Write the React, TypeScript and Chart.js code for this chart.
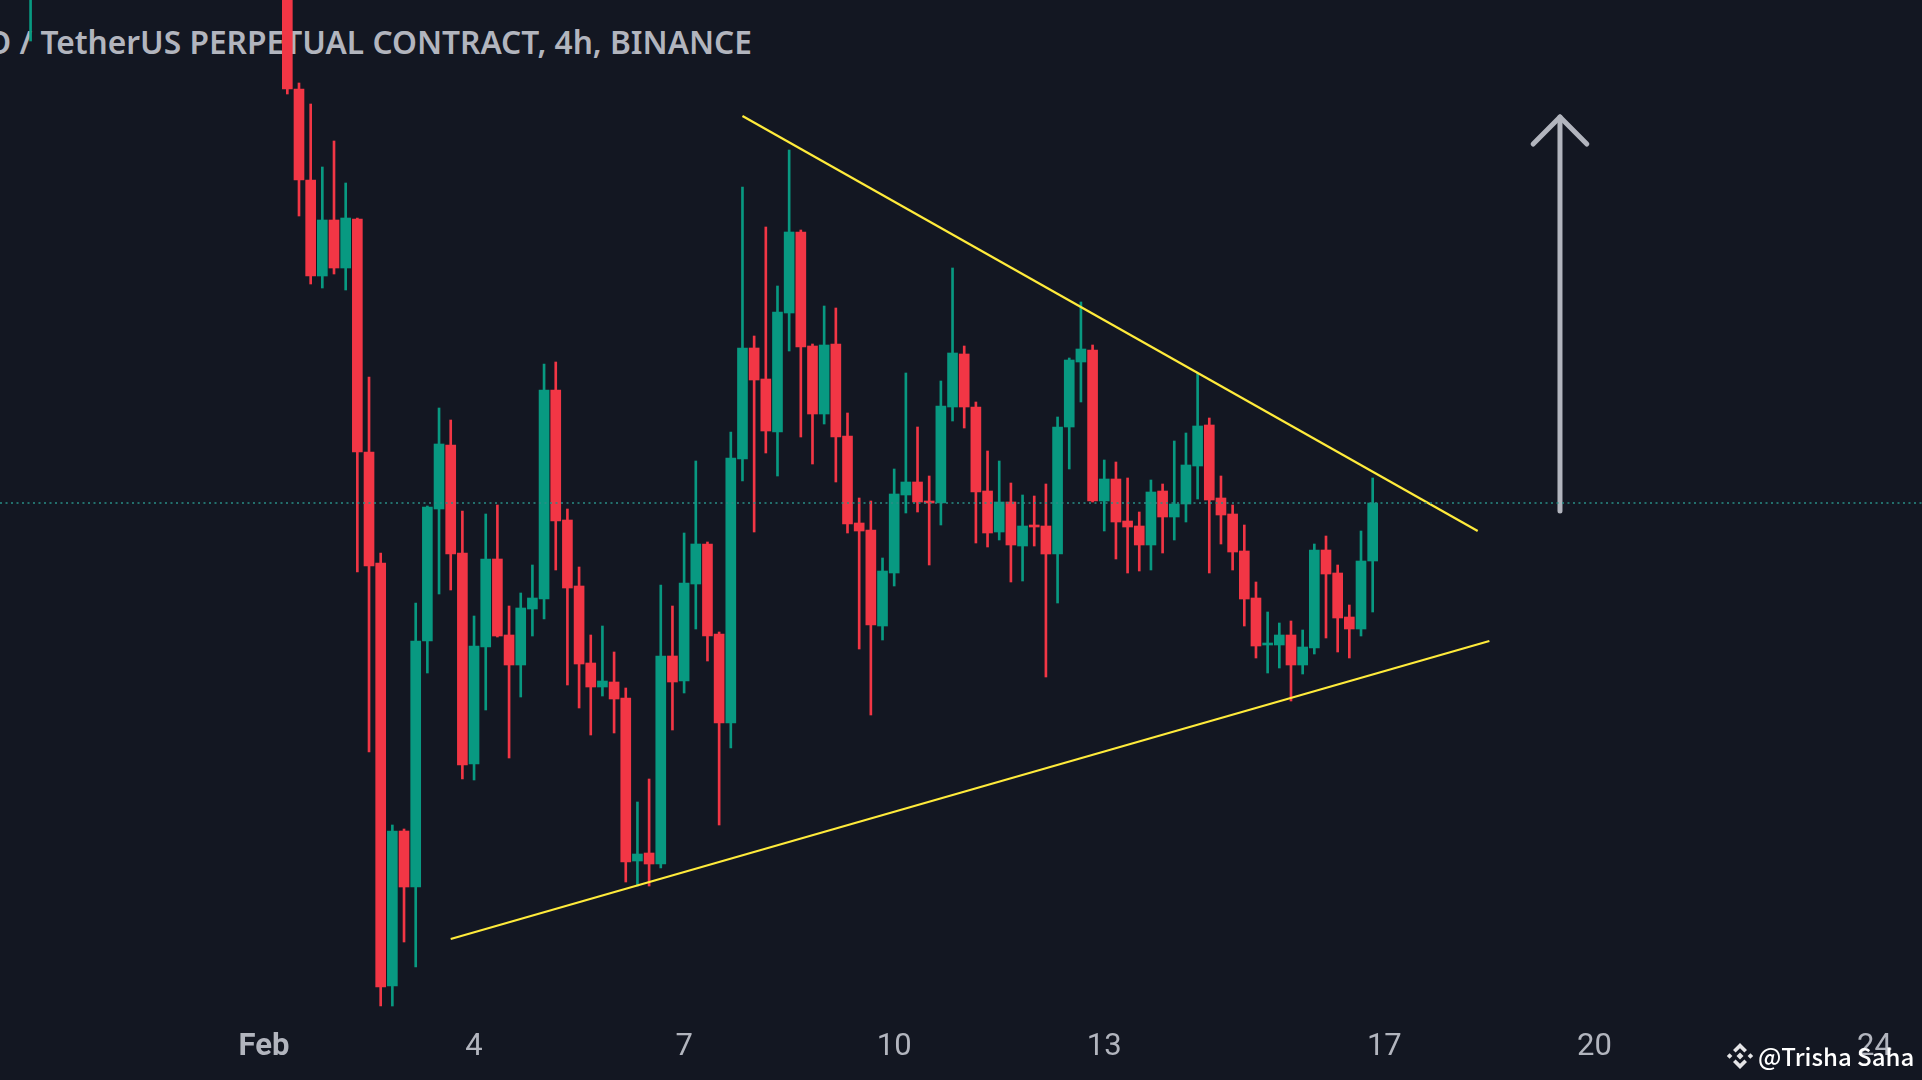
import { useEffect, useRef } from 'react';
import { Chart, registerables } from 'chart.js';

Chart.register(...registerables);

// bar number counted from the 1 Feb open, 6 bars a day on the 4h chart
const bars = [
  -20, 2, 3, 4, 5, 6, 7, 8, 9, 10, 11, 12, 13, 14, 15, 16, 17, 18, 19, 20, 21, 22, 23, 24, 25, 26, 27, 28,
  29, 30, 31, 32, 33, 34, 35, 36, 37, 38, 39, 40, 41, 42, 43, 44, 45, 46, 47, 48, 49, 50, 51, 52, 53, 54,
  55, 56, 57, 58, 59, 60, 61, 62, 63, 64, 65, 66, 67, 68, 69, 70, 71, 72, 73, 74, 75, 76, 77, 78, 79, 80,
  81, 82, 83, 84, 85, 86, 87, 88, 89, 90, 91, 92, 93, 94, 95,
];
const opens = [
  1100, 1140, 991, 900, 804, 860, 812, 861, 628, 517, 94, 249, 193, 439, 571, 635, 527, 316, 433, 521, 445, 415, 471, 481, 690, 560, 494, 417,
  393, 398, 382, 219, 227, 216, 424, 399, 496, 536, 446, 357, 621, 732, 701, 648, 767, 848, 734, 666, 736, 644, 557, 550, 454, 507,
  585, 598, 579, 577, 673, 726, 673, 589, 548, 578, 534, 555, 554, 526, 653, 718, 730, 579, 601, 559, 554, 535, 589, 563, 576, 614,
  655, 582, 566, 529, 482, 435, 435, 445, 415, 432, 530, 507, 463, 451, 519,
];
const highs = [
  1140, 1160, 997, 976, 913, 939, 897, 862, 703, 527, 255, 251, 477, 574, 672, 660, 569, 464, 566, 575, 474, 487, 515, 716, 718, 571, 513, 445,
  454, 428, 392, 278, 301, 495, 474, 547, 619, 538, 448, 648, 893, 744, 853, 794, 930, 850, 736, 774, 772, 667, 582, 579, 522, 611,
  707, 653, 604, 699, 812, 734, 678, 629, 619, 597, 585, 584, 596, 663, 722, 778, 735, 620, 618, 602, 568, 600, 596, 639, 647, 707,
  662, 604, 575, 555, 498, 468, 457, 459, 450, 536, 544, 515, 475, 549, 602,
];
const lows = [
  1039, 986, 864, 796, 792, 806, 790, 508, 328, 74, 74, 138, 113, 407, 486, 490, 301, 300, 370, 443, 322, 383, 444, 461, 510, 395, 372, 345,
  384, 347, 198, 194, 194, 212, 350, 387, 451, 419, 255, 332, 599, 548, 627, 604, 729, 643, 616, 656, 598, 547, 431, 365, 440, 494,
  567, 568, 515, 555, 659, 652, 537, 533, 540, 498, 499, 534, 403, 477, 611, 678, 578, 549, 521, 507, 509, 510, 527, 540, 558, 581,
  507, 536, 510, 454, 422, 407, 412, 379, 406, 426, 442, 428, 422, 444, 468,
];
const closes = [
  1120, 991, 900, 804, 860, 812, 862, 628, 514, 93, 249, 193, 439, 573, 636, 526, 315, 434, 521, 444, 415, 472, 482, 690, 559, 492, 416, 393,
  399, 381, 218, 226, 216, 424, 398, 497, 536, 444, 357, 622, 732, 700, 649, 768, 848, 733, 666, 735, 643, 556, 549, 455, 509, 586,
  598, 578, 577, 674, 727, 673, 588, 547, 578, 535, 554, 553, 526, 653, 720, 731, 579, 601, 558, 553, 535, 588, 563, 576, 615, 654,
  580, 565, 528, 481, 434, 437, 445, 415, 433, 530, 506, 462, 451, 519, 577,
];

const tickBars = [0, 18, 36, 54, 72, 96, 114, 138];
const tickNames = ['Feb', '4', '7', '10', '13', '17', '20', '24'];

const lastPrice = 577;
const upperTrendBars = [41, 104];
const upperTrendPrices = [964, 549];
const lowerTrendBars = [16, 105];
const lowerTrendPrices = [141, 439];
const arrowShaftBars = [111.05, 111.05];
const arrowShaftPrices = [569, 963];
const arrowHeadBars = [108.75, 111.05, 113.35];
const arrowHeadPrices = [936, 963, 936];

const UP = '#089981';
const DOWN = '#f23645';
const BG = '#131722';
const MUTED = '#b2b5be';
const TREND = '#ffeb3b';

const X_MIN = -22.62;
const X_MAX = 142.07;

function toPoints(xs: number[], ys: number[]) {
  return xs.map((x, i) => ({ x, y: ys[i] }));
}

function lineSet(data: { x: number; y: number }[], color: string, width: number, extra = {}) {
  return {
    type: 'line' as const,
    data,
    borderColor: color,
    borderWidth: width,
    pointRadius: 0,
    tension: 0,
    fill: false,
    order: 1,
    ...extra,
  };
}

export default function App() {
  const canvasRef = useRef<HTMLCanvasElement>(null);

  useEffect(() => {
    document.body.style.margin = '0';
    document.body.style.background = BG;
    document.body.style.overflow = 'hidden';
    if (!canvasRef.current) return;

    const colors = bars.map((_, i) => (closes[i] >= opens[i] ? UP : DOWN));
    const chart = new Chart(canvasRef.current, {
      type: 'bar',
      data: {
        datasets: [
          {
            data: bars.map((x, i) => ({ x, y: [lows[i], highs[i]] })),
            backgroundColor: colors,
            barThickness: 2,
            grouped: false,
            borderSkipped: false,
            order: 3,
          },
          {
            data: bars.map((x, i) => ({ x, y: [opens[i], closes[i]] })),
            backgroundColor: colors,
            barThickness: 10,
            grouped: false,
            borderSkipped: false,
            order: 2,
          },
          lineSet(toPoints([X_MIN, X_MAX], [lastPrice, lastPrice]), '#2a8f86', 1.5, { borderDash: [2, 3.5] }),
          lineSet(toPoints(upperTrendBars, upperTrendPrices), TREND, 2.2),
          lineSet(toPoints(lowerTrendBars, lowerTrendPrices), TREND, 2.2),
          lineSet(toPoints(arrowShaftBars, arrowShaftPrices), MUTED, 5, { borderCapStyle: 'round' }),
          lineSet(toPoints(arrowHeadBars, arrowHeadPrices), MUTED, 5, { borderCapStyle: 'round', borderJoinStyle: 'round' }),
        ] as any,
      },
      options: {
        animation: false,
        responsive: false,
        layout: { padding: 0 },
        plugins: { legend: { display: false }, tooltip: { enabled: false } },
        scales: {
          x: {
            type: 'linear',
            min: X_MIN,
            max: X_MAX,
            offset: false, // bar charts default to true, which insets the plot
            grid: { display: false, drawTicks: false },
            border: { display: false },
            afterBuildTicks: (scale) => {
              scale.ticks = tickBars.map((value) => ({ value }));
            },
            afterFit: (scale: any) => {
              scale.height = 70;
              scale.paddingLeft = 0;
              scale.paddingRight = 0;
            },
            ticks: {
              autoSkip: false,
              maxRotation: 0,
              padding: 19,
              color: MUTED,
              font: (ctx: any) => ({
                family: 'Roboto',
                size: 31,
                weight: ctx.tick && ctx.tick.value === 0 ? 'bold' : 'normal',
              }),
              callback: (value) => tickNames[tickBars.indexOf(Number(value))],
            },
          },
          y: { display: false, min: 70, max: 1080 },
        },
      },
    });
    return () => { chart.destroy(); };
  }, []);

  return (
    <div style={{ position: 'relative', width: 1922, height: 1080, overflow: 'hidden', background: BG }}>
      <div
        style={{
          position: 'absolute',
          right: 1170,
          top: 20,
          whiteSpace: 'nowrap',
          font: '600 31.7px "Noto Sans"',
          color: MUTED,
        }}
      >
        D / TetherUS PERPETUAL CONTRACT, 4h, BINANCE
      </div>
      <canvas ref={canvasRef} width={1922} height={1080} style={{ position: 'absolute', left: 0, top: 0, display: 'block' }} />
      <svg width={28} height={28} viewBox="0 0 28 28" style={{ position: 'absolute', left: 1726, top: 1042 }}>
        <g fill="#e4e4e6">
          <polygon points="14,1 21,8 18.4,10.6 14,6.2 9.6,10.6 7,8" />
          <polygon points="14,27 7,20 9.6,17.4 14,21.8 18.4,17.4 21,20" />
          <polygon points="14,10.5 17.5,14 14,17.5 10.5,14" />
          <polygon points="3.6,11.2 6.4,14 3.6,16.8 0.8,14" />
          <polygon points="24.4,11.2 27.2,14 24.4,16.8 21.6,14" />
        </g>
      </svg>
      <div
        style={{
          position: 'absolute',
          left: 1758,
          top: 1038,
          whiteSpace: 'nowrap',
          font: '500 24px "Noto Sans CJK SC"',
          color: '#ffffff',
        }}
      >
        @Trisha Saha
      </div>
    </div>
  );
}
